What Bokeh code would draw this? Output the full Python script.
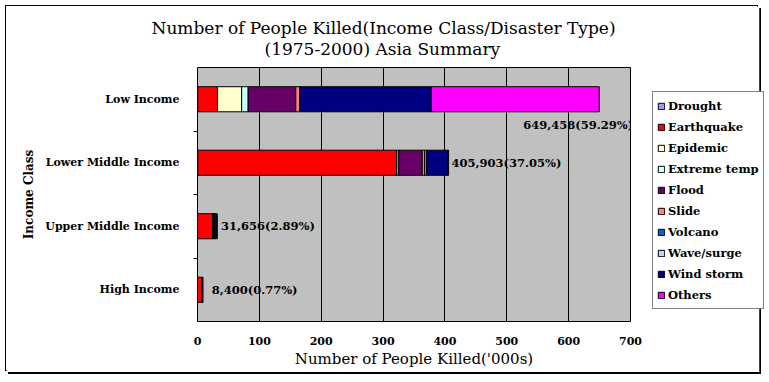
from bokeh.plotting import figure
from bokeh.models import (ColumnDataSource, Legend, LegendItem, Title,
                          FixedTicker, Range1d)
from bokeh.embed import file_html
from bokeh.resources import INLINE
from bokeh.core.properties import value

categories = ["Low Income", "Lower Middle Income", "Upper Middle Income", "High Income"]
disaster_types = ["Drought", "Earthquake", "Epidemic", "Extreme temp", "Flood",
                  "Slide", "Volcano", "Wave/surge", "Wind storm", "Others"]
# thousands of people killed, per income class (same order as categories)
drought = [0.4, 0.5, 0.2, 0.0]
earthquake = [32.0, 321.5, 24.0, 7.6]
epidemic = [39.0, 0.4, 0.3, 0.1]
extreme_temp = [10.5, 3.0, 0.2, 0.1]
flood = [77.0, 38.0, 2.0, 0.2]
slide = [6.0, 4.0, 0.5, 0.1]
volcano = [0.3, 0.2, 0.1, 0.1]
wave_surge = [0.3, 3.0, 0.1, 0.0]
wind_storm = [212.5, 34.5, 4.0, 0.1]
others = [271.458, 0.803, 0.256, 0.1]
totals = [649458, 405903, 31656, 8400]
x_ticks = [0, 100, 200, 300, 400, 500, 600, 700]

colors = ["#9999FF", "#FF0000", "#FFFFCC", "#CCFFFF", "#660066",
          "#FF8080", "#0066CC", "#CCCCFF", "#000080", "#FF00FF"]

series = [drought, earthquake, epidemic, extreme_temp, flood,
          slide, volcano, wave_surge, wind_storm, others]

n = len(categories)
ypos = [n - 1 - i for i in range(n)]

data = {"y": ypos}
for name, vals in zip(disaster_types, series):
    data[name] = vals
source = ColumnDataSource(data)

FONT = "DejaVu Serif"

p = figure(width=753, height=366, output_backend="svg", toolbar_location=None,
           width_policy="fixed", height_policy="fixed",
           x_range=Range1d(x_ticks[0], x_ticks[-1]), y_range=Range1d(-0.5, n - 0.5),
           frame_width=433, frame_height=254,
           min_border_left=191, min_border_right=129, min_border_top=61, min_border_bottom=51,
           background_fill_color="#C0C0C0", border_fill_color="white",
           outline_line_color="black", outline_line_width=1)
p.styles = {"border": "1px solid black", "box-shadow": "3px 3px 0 black",
            "margin-left": "5px", "margin-top": "5px"}

renderers = p.hbar_stack(disaster_types, y="y", height=0.395, color=colors,
                         line_color="black", line_width=1, source=source)

# labels
grand = sum(totals)
labels = [f"{t:,}({t / grand * 100:.2f}%)" for t in totals]
lsrc = ColumnDataSource(dict(x=[t / 1000 for t in totals], y=ypos, text=labels,
                             xoff=[-76, 3, 4, 9], yoff=[26, 0, 0, 0]))
p.text(x="x", y="y", text="text", x_offset="xoff", y_offset="yoff", source=lsrc,
       text_baseline="middle", text_align="left", text_font=value(FONT),
       text_font_style="bold", text_font_size="11.5px", text_color="black")

# axes
p.xaxis.ticker = FixedTicker(ticks=x_ticks)
p.xaxis.axis_line_color = None
p.xaxis.major_tick_line_color = None
p.xaxis.minor_tick_line_color = None
p.xaxis.major_label_standoff = 9
p.xaxis.major_label_text_font = FONT
p.xaxis.major_label_text_font_style = "bold"
p.xaxis.major_label_text_font_size = "11px"
p.xaxis.major_label_text_color = "black"
p.xaxis.axis_label = "Number of People Killed('000s)"
p.xaxis.axis_label_text_font = FONT
p.xaxis.axis_label_text_font_style = "normal"
p.xaxis.axis_label_text_font_size = "15px"
p.xaxis.axis_label_text_color = "black"
p.xaxis.axis_label_standoff = 2

p.yaxis.ticker = FixedTicker(ticks=ypos, minor_ticks=[y + 0.5 for y in ypos[1:]])
p.yaxis.major_label_overrides = {y: c for y, c in zip(ypos, categories)}
p.yaxis.axis_line_color = None
p.yaxis.major_tick_line_color = None
p.yaxis.minor_tick_line_color = "black"
p.yaxis.minor_tick_in = 0
p.yaxis.minor_tick_out = 4
p.yaxis.major_label_standoff = 12
p.yaxis.major_label_text_font = FONT
p.yaxis.major_label_text_font_style = "bold"
p.yaxis.major_label_text_font_size = "11px"
p.yaxis.major_label_text_color = "black"
p.yaxis.axis_label = "Income Class"
p.yaxis.axis_label_text_font = FONT
p.yaxis.axis_label_text_font_style = "bold"
p.yaxis.axis_label_text_font_size = "12px"
p.yaxis.axis_label_text_color = "black"
p.yaxis.axis_label_standoff = 6

p.xgrid.ticker = FixedTicker(ticks=x_ticks)
p.xgrid.grid_line_color = "black"
p.xgrid.grid_line_width = 1
p.ygrid.grid_line_color = None

# titles (later-added titles sit closer to the plot frame)
p.title.text = "Number of People Killed(Income Class/Disaster Type)"
p.title.text_font = FONT
p.title.text_font_style = "normal"
p.title.text_font_size = "17px"
p.title.text_color = "black"
p.title.align = "left"
p.title.offset = -46
p.title.standoff = -32
t2 = Title(text="(1975-2000) Asia Summary", text_font=FONT, text_color="black",
           text_font_style="normal", text_font_size="17px", align="left", offset=67,
           standoff=16, vertical_align="middle")
p.add_layout(t2, "above")
spacer = Title(text=" ", text_font_size="6px", standoff=0)
p.add_layout(spacer, "above")

items = [LegendItem(label=name, renderers=[r]) for name, r in zip(disaster_types, renderers)]
legend = Legend(items=items, location=(22, 12), border_line_color="black",
                border_line_width=1, background_fill_color="white", background_fill_alpha=1,
                glyph_width=8, glyph_height=8, label_standoff=3,
                label_text_font=FONT, label_text_font_style="bold",
                label_text_font_size="11.5px", label_text_color="black",
                label_height=19, spacing=2, padding=4, margin=0)
p.add_layout(legend, "right")

open("out.html", "w").write(file_html(p, INLINE))
